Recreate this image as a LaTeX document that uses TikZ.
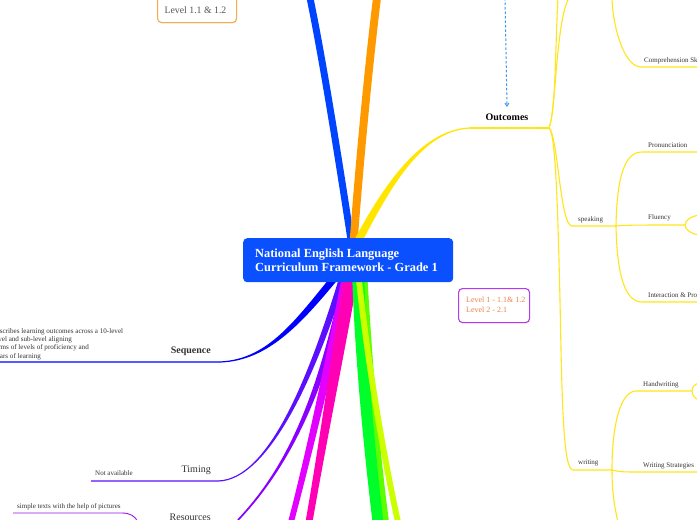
\documentclass[tikz,border=0pt]{standalone}
\usepackage{fontspec}
\setmainfont{Liberation Serif}
\usetikzlibrary{calc,shadows,arrows.meta}
\definecolor{lineY}{HTML}{FFE61A}
\definecolor{mainY}{HTML}{FFE500}
\definecolor{txt}{HTML}{333333}
\definecolor{lvlO}{HTML}{F0804E}
\definecolor{cTim}{HTML}{5A10FF}
\definecolor{cRes}{HTML}{8A00FF}
\definecolor{cMag}{HTML}{E400FF}
\definecolor{cPink}{HTML}{FF00B4}
\definecolor{cGrnB}{HTML}{5CFF00}
\definecolor{cGrn}{HTML}{00FF2A}
\definecolor{cLime}{HTML}{CCFF00}
\definecolor{cBlue}{HTML}{0044FF}
\definecolor{cOrg}{HTML}{FF9900}
\definecolor{cDash}{HTML}{3D96F0}
\definecolor{cSub}{HTML}{9A14E8}
\definecolor{cTitle}{HTML}{0A50FF}
\definecolor{cBoxO}{HTML}{F5AB4E}
\definecolor{cBoxP}{HTML}{B13CF0}
\definecolor{cGray}{HTML}{555555}
\newcommand{\taper}[7]{\fill[#1] ($#2+(#6)$) .. controls ($#3+(#6)$) and ($#4+(#7)$) .. ($#5+(#7)$) -- ($#5-(#7)$) .. controls ($#4-(#7)$) and ($#3-(#6)$) .. ($#2-(#6)$) -- cycle;}
\tikzset{
  small/.style={inner sep=0pt,font=\fontsize{7}{8}\selectfont,text=txt,anchor=west},
  branchlabel/.style={inner sep=0pt,font=\fontsize{10}{12}\selectfont,text=txt,anchor=east},
  thin yellow/.style={draw=lineY,line width=1.1pt},
  levelbox/.style={draw,rounded corners=4pt,line width=1.1pt,fill=white,drop shadow={shadow xshift=0.4pt,shadow yshift=-0.8pt,opacity=0.18}},
}
\begin{document}
\begin{tikzpicture}[x=1pt,y=-1pt]
\useasboundingbox (0,0) rectangle (697,520);
\clip (0,0) rectangle (697,520);
\fill[white] (0,0) rectangle (697,520);
% anchors
\coordinate (hub) at (350,260);
\coordinate (outHub) at (549,128);
\coordinate (outJoin) at (470,128);
\coordinate (seqJoin) at (220,362);
\coordinate (seqEnd) at (0,362);
\coordinate (timJoin) at (218,481);
\coordinate (timEnd) at (91,481);
\coordinate (resJoin) at (238,520);
\coordinate (speakJoin) at (572,226);
\coordinate (speakHub) at (616,226);
\coordinate (writeJoin) at (573,470);
\coordinate (writeHub) at (612,470);
% thick branches
\taper{blue}{(345,265)}{(300,320)}{(270,360)}{(seqJoin)}{2.6,2.6}{0,0.6}
\taper{blue}{(seqJoin)}{(150,362)}{(70,362)}{(seqEnd)}{0,0.6}{0,0.6}
\taper{cTim}{(345,270)}{(315,370)}{(270,480)}{(timJoin)}{3.5,0}{0,0.6}
\taper{cTim}{(timJoin)}{(180,481)}{(130,481)}{(timEnd)}{0,0.6}{0,0.6}
\taper{cRes}{(348,270)}{(325,380)}{(295,460)}{(resJoin)}{4,0}{0.6,0.6}
\taper{cMag}{(348,270)}{(335,340)}{(310,450)}{(291,522)}{5,0}{3,0}
\taper{cPink}{(352,270)}{(342,330)}{(325,430)}{(309,522)}{7,0}{3.5,0}
\taper{cGrnB}{(361,270)}{(365,340)}{(372,430)}{(384,522)}{6,0}{5,0}
\taper{cGrn}{(358,270)}{(360,340)}{(367,430)}{(378,522)}{6,0}{5.5,0}
\taper{cLime}{(358,270)}{(365,340)}{(378,430)}{(398,522)}{3,0}{3,0}
\taper{cBlue}{(354,260)}{(345,200)}{(325,70)}{(310,-2)}{3.5,0}{3.5,0}
\taper{cOrg}{(353,250)}{(358,180)}{(368,70)}{(377,-2)}{4,0}{4,0}
\taper{mainY}{(356,245)}{(385,190)}{(420,130)}{(outJoin)}{3.4,1.8}{0,0.6}
% outcomes rule
\draw[lineY,line width=1.1pt] (outJoin) -- (outHub);
\draw[mainY,line width=1.6pt] (536,128) -- (outHub);
% yellow tree
\draw[thin yellow] (outHub) .. controls (556,110) and (555,50) .. (558,-2);
\draw[thin yellow] (outHub) .. controls (556,110) and (556,20) .. (569,-2);
\draw[thin yellow] (612,-2) .. controls (613,30) and (625,67) .. (641,67) -- (697,67);
\draw[thin yellow] (outHub) .. controls (558,135) and (560,226) .. (speakJoin) -- (speakHub);
\draw[thin yellow] (outHub) .. controls (556,132) and (558,220) .. (560,300) .. controls (562,400) and (563,470) .. (writeJoin) -- (writeHub);
\draw[thin yellow] (speakHub) .. controls (617,175) and (625,152) .. (642,152) -- (697,152);
\draw[thin yellow] (speakHub) .. controls (625,225) and (640,225) .. (685,225);
\draw[thin yellow] (speakHub) .. controls (617,275) and (625,302) .. (642,302) -- (697,302);
\draw[thin yellow] (699,215) .. controls (692,216) and (685,220) .. (685,225) .. controls (685,230) and (692,234) .. (699,235);
\draw[thin yellow] (writeHub) .. controls (612,420) and (622,391) .. (636,391) -- (692,391);
\draw[thin yellow] (699,383) .. controls (695,384) and (692,387) .. (692,391) .. controls (692,395) and (695,399) .. (699,400);
\draw[thin yellow] (writeHub) .. controls (620,472) and (625,472) .. (640,472) -- (697,472);
\draw[thin yellow] (writeHub) .. controls (612,490) and (614,505) .. (618,522);
% dashed arrow
\draw[draw=cDash,line width=1pt,dash pattern=on 2.5pt off 2pt,-{Straight Barb[length=3pt,width=4pt]}] (505,-2) -- (507,107);
% resources sub branch
\coordinate (resHub) at (138,522);
\draw[cSub,line width=0.9pt] (13,513) -- (122,513) .. controls (130,513) and (135,516) .. (resHub);
% title
\node[fill=cTitle,rounded corners=4pt,minimum width=210pt,minimum height=44pt,anchor=north west,inner sep=0pt] (title) at (243,238) {};
\node[inner sep=0pt,anchor=west,align=left,text=white,font=\fontsize{12.4}{14}\bfseries\selectfont] (titletext) at (255,260.5) {National English Language\\Curriculum Framework - Grade 1};
% boxes
\node[levelbox,draw=cBoxO,minimum width=79pt,minimum height=28pt,anchor=north west,inner sep=0pt] (lvlA) at (157,-6) {};
\node[inner sep=0pt,font=\fontsize{9.8}{12}\selectfont,text=cGray] (lvlAtext) at (195.5,10.5) {Level 1.1 \& 1.2};
\node[levelbox,draw=cBoxP,minimum width=71pt,minimum height=34pt,anchor=north west,inner sep=0pt] (lvlB) at (458,288) {};
\node[inner sep=0pt,anchor=west,align=left,text=lvlO,font=\fontsize{8}{10.2}\selectfont] (lvlBtext) at (466,305) {Level 1 - 1.1\& 1.2\\Level 2 - 2.1};
% labels
\node[inner sep=0pt,font=\fontsize{10}{12}\bfseries\selectfont,text=black] (outcomes) at (507,117) {Outcomes};
\node[branchlabel,font=\fontsize{10}{12}\bfseries\selectfont] (sequence) at (211,351.5) {Sequence};
\node[branchlabel] (timing) at (211,470) {Timing};
\node[branchlabel] (resources) at (211,517) {Resources};
\node[small,align=left,font=\fontsize{7.1}{8.3}\selectfont] (seqtext) at (-7,344) {describes learning outcomes across a 10-level\\level and sub-level aligning\\terms of levels of proficiency and\\years of learning};
\node[small] (notavail) at (95,473.5) {Not available};
\node[small] (simple) at (17,506.5) {simple texts with the help of pictures};
\node[small] (compre) at (644,60.5) {Comprehension Skills};
\node[small] (pron) at (648,145.5) {Pronunciation};
\node[small] (speak) at (578,220) {speaking};
\node[small] (flu) at (648,218) {Fluency};
\node[small] (inter) at (648,295.5) {Interaction \& Production};
\node[small] (hand) at (643,384.5) {Handwriting};
\node[small] (wstrat) at (643,465.5) {Writing Strategies};
\node[small] (wr) at (578,463) {writing};
\end{tikzpicture}
\end{document}
